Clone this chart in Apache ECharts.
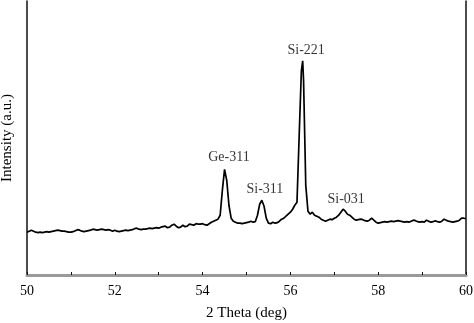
<!DOCTYPE html>
<html><head><meta charset="utf-8">
<script src="https://cdn.jsdelivr.net/npm/echarts@6/dist/echarts.min.js"></script>
<style>html,body{margin:0;padding:0;background:#fff}#c{width:474px;height:323px}</style>
</head><body><div id="c"></div>
<script>
var theta = [
50.00,50.05,50.10,50.15,50.20,50.25,50.30,50.35,50.40,50.45,50.50,50.55,50.60,50.65,50.70,50.75,50.80,50.85,50.90,50.95,
51.00,51.05,51.10,51.15,51.20,51.25,51.30,51.35,51.40,51.45,51.50,51.55,51.60,51.65,51.70,51.75,51.80,51.85,51.90,51.95,
52.00,52.05,52.10,52.15,52.20,52.25,52.30,52.35,52.40,52.45,52.50,52.55,52.60,52.65,52.70,52.75,52.80,52.85,52.90,52.95,
53.00,53.05,53.10,53.15,53.20,53.25,53.30,53.35,53.40,53.45,53.50,53.55,53.60,53.65,53.70,53.75,53.80,53.85,53.90,53.95,
54.00,54.05,54.10,54.15,54.20,54.25,54.30,54.35,54.40,54.45,54.50,54.55,54.60,54.65,54.70,54.75,54.80,54.85,54.90,54.95,
55.00,55.05,55.10,55.15,55.20,55.25,55.30,55.35,55.40,55.45,55.50,55.55,55.60,55.65,55.70,55.75,55.80,55.85,55.90,55.95,
56.00,56.05,56.10,56.15,56.20,56.25,56.28,56.30,56.35,56.40,56.45,56.50,56.55,56.60,56.65,56.70,56.75,56.80,56.85,56.90,56.95,
57.00,57.05,57.10,57.15,57.20,57.25,57.30,57.35,57.40,57.45,57.50,57.55,57.60,57.65,57.70,57.75,57.80,57.85,57.90,57.95,
58.00,58.05,58.10,58.15,58.20,58.25,58.30,58.35,58.40,58.45,58.50,58.55,58.60,58.65,58.70,58.75,58.80,58.85,58.90,58.95,
59.00,59.05,59.10,59.15,59.20,59.25,59.30,59.35,59.40,59.45,59.50,59.55,59.60,59.65,59.70,59.75,59.80,59.85,59.90,59.95,
60.00];
var intensity = [
43,44,45,44,43,42.5,43,42.5,43,43.5,43,43.5,44,44.5,45,44.5,44,44,43.5,43,
43,43.5,44.5,45.5,45,44,43.5,44,44.5,45,46,45.5,45,45.5,46,45.5,45,45.5,45,44,
45,44,43.5,44,44.5,45,44.5,45,45.5,46.5,47,46,45.5,46,46,46.5,47,46.5,47,47.5,
47,48,48.5,49,47.5,48,50,51,49,47.5,48,50,48.5,49,51,50.5,50,51.5,51,51,
51.5,50.5,50,51.5,53,54,55,56,60,85,106,95,70,57,54,53,52,52,51.5,52,
52.5,53,54,53,53.5,60,71,75,69,57,52,51.5,53,52,52.5,54,56,57,59,61,
63,66,70,73,140,205,215,195,90,64,61,63,60,59,58,56,55,54,55,56,55.5,
57,58,60,63,66,64,61,60,58,56,55,55.5,56,55.5,54.5,54,55,57,55,53,
52,52.5,53,53.5,53,53.5,54,53.5,54,54.5,54,53.5,53,53.5,53,54,55,54.5,53.5,53,
53.5,53,55,54,53,53.5,54.5,53.5,53,54,56,55,54,53.5,53,53.5,54,55,57,57,
56.5];
var peakNames = ['Ge-311','Si-311','Si-221','Si-031'];
var peakX = [54.6,55.42,56.36,57.27];
var peakY = [118,86,225,76];
var xTicks = [50,52,54,56,58,60];

var data = theta.map(function(t,i){return [t,intensity[i]];});
var labels = peakNames.map(function(n,i){return {value:[peakX[i],peakY[i]],name:n};});
var font = '"Liberation Serif","DejaVu Serif",serif';
var chart = echarts.init(document.getElementById('c'));
chart.setOption({
  animation:false,
  backgroundColor:'#fff',
  grid:{left:27,right:8,top:1,bottom:48,containLabel:false,outerBoundsMode:'none'},
  xAxis:[{
    type:'value',min:50,max:60,interval:2,position:'bottom',
    name:'2 Theta (deg)',nameLocation:'middle',nameGap:31,
    nameTextStyle:{fontFamily:font,fontSize:15,color:'#000'},
    axisLine:{lineStyle:{color:'#111',width:1.5}},
    axisTick:{inside:true,length:3,lineStyle:{color:'#111',width:1}},
    minorTick:{show:true,splitNumber:2,length:3,lineStyle:{color:'#111',width:1}},
    axisLabel:{fontFamily:font,fontSize:14,color:'#000',margin:9},
    splitLine:{show:false}
  },{
    type:'value',min:50,max:60,position:'top',
    axisLine:{show:true,lineStyle:{color:'#9a9a9a',width:3}},
    axisTick:{show:false},axisLabel:{show:false},splitLine:{show:false}
  }],
  yAxis:[{
    type:'value',min:0,max:275,position:'left',
    name:'Intensity (a.u.)',nameLocation:'middle',nameGap:12,
    nameTextStyle:{fontFamily:font,fontSize:15,color:'#000'},
    axisLine:{show:true,lineStyle:{color:'#111',width:1.5}},
    axisTick:{show:false},axisLabel:{show:false},splitLine:{show:false}
  },{
    type:'value',min:0,max:275,position:'right',
    axisLine:{show:true,lineStyle:{color:'#111',width:1.5}},
    axisTick:{show:false},axisLabel:{show:false},splitLine:{show:false}
  }],
  series:[{
    type:'line',data:data,showSymbol:false,
    lineStyle:{color:'#000',width:1.7},z:3
  },{
    type:'scatter',data:labels,symbolSize:0,
    label:{show:true,position:'inside',formatter:function(p){return p.name;},
      fontFamily:font,fontSize:14,color:'#000'}
  }]
});
</script></body></html>
